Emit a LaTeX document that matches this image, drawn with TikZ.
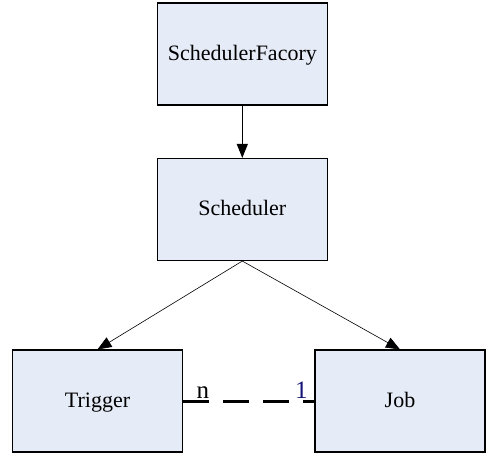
\documentclass[tikz,border=0pt]{standalone}
\usepackage{fontspec}
\setmainfont{Liberation Serif}
\usetikzlibrary{positioning, arrows.meta}
\definecolor{boxfill}{RGB}{230,236,247}
\definecolor{navy}{RGB}{20,20,120}

\begin{document}
\begin{tikzpicture}[x=1pt, y=-1pt, font=\fontsize{22}{26}\selectfont]

        % Styles
        \tikzstyle{cls} = [draw=black, line width=1.1pt, fill=boxfill, minimum width=170pt, minimum height=102pt, inner sep=0pt, text height=16pt, text depth=4pt]
        \tikzstyle{dep} = [-{Triangle[length=14pt, width=11pt]}, line width=0.6pt]
        \tikzstyle{assoc} = [line width=3pt, dash pattern=on 26pt off 14pt]
        \tikzstyle{mult} = [above=1pt, inner sep=0.5pt, font=\fontsize{25}{28}\selectfont]

        % Canvas
        \useasboundingbox (0,0) rectangle (495,464);

        % --- CLASSES ---
        \node[cls] (factory) at (242.3, 54) {SchedulerFacory};
        \node[cls] (sched) at (242.3, 209.5) {Scheduler};
        \node[cls] (trigger) at (97.5, 401) {Trigger};
        \node[cls] (job) at (400, 401) {Job};

        % --- CONNECTORS ---
        \draw[dep, line width=1pt] (factory.south) -- (sched.north);
        \draw[dep] (sched.south) -- (trigger.north);
        \draw[dep] (sched.south) -- (job.north);

        % Association Trigger n -- 1 Job
        \draw[assoc] (trigger.east) -- (job.west)
            node[mult, pos=0.15] {n}
            node[mult, pos=0.9, text=navy] {1};

    \end{tikzpicture}
\end{document}
